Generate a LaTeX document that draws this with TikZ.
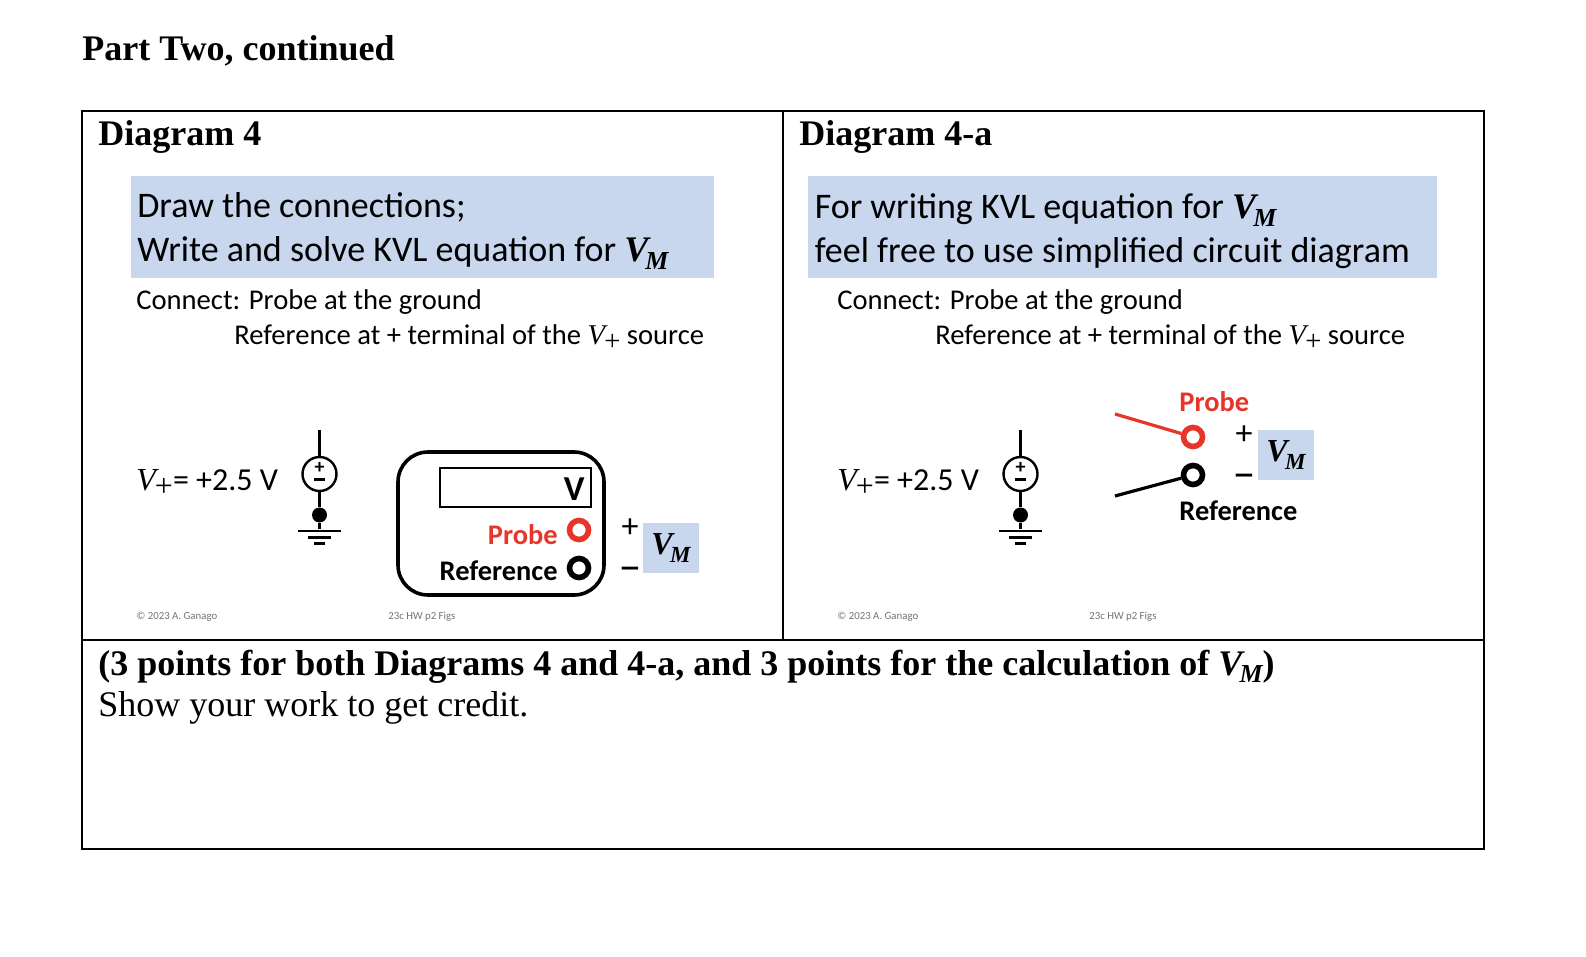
\documentclass[tikz,border=0pt]{standalone}
\usepackage{fontspec}
\setmainfont{Liberation Serif}
\newfontfamily\slidefont{Carlito}
\usetikzlibrary{positioning}
\definecolor{taskblue}{HTML}{C8D6EE}
\definecolor{probered}{HTML}{E8352A}
\newcommand{\vplus}{{\rmfamily\itshape V\kern-.03em}\raisebox{-.42ex}{\rmfamily +}}
\newcommand{\vmeas}{{\rmfamily\bfseries\itshape V\kern-.08em\raisebox{-.48ex}{\scalebox{.72}{M}}}}
\tikzstyle{heading} = [anchor=base west, inner sep=0pt, font=\fontsize{18}{22}\selectfont\bfseries]
\tikzstyle{bodytext} = [anchor=base west, inner sep=0pt, font=\fontsize{18}{22}\selectfont]
\tikzstyle{task} = [anchor=north west, fill=taskblue, minimum height=51pt, inner xsep=3.2pt, inner ysep=0pt, align=left, font=\slidefont\fontsize{18}{21.75}\selectfont]
\tikzstyle{note} = [anchor=base west, inner sep=0pt, font=\slidefont\fontsize{14.3}{17}\selectfont]
\tikzstyle{voltage} = [anchor=base west, inner sep=0pt, font=\slidefont\fontsize{16}{20}\selectfont]
\tikzstyle{credit} = [anchor=base west, inner sep=0pt, text=black!55, font=\slidefont\fontsize{5.4}{6}\selectfont]
\tikzstyle{source} = [circle, draw=black, line width=1.2pt, minimum size=17pt, inner sep=0pt]
\tikzstyle{sign} = [inner sep=0pt, font=\slidefont\bfseries\fontsize{10}{10}\selectfont]
\tikzstyle{junction} = [circle, fill=black, minimum size=7.5pt, inner sep=0pt]
\tikzstyle{gndbar} = [fill=black, inner sep=0pt, minimum height=1.3pt]
\tikzstyle{wire} = [line width=1.1pt]
\tikzstyle{lead} = [line width=1.6pt]
\tikzstyle{terminal} = [circle, fill=white, line width=2.8pt, minimum size=9.5pt, inner sep=0pt]
\tikzstyle{termlabel} = [anchor=base east, inner sep=0pt, font=\slidefont\bfseries\fontsize{14.2}{17}\selectfont]
\tikzstyle{polarity} = [inner sep=0pt, font=\slidefont\fontsize{17}{17}\selectfont]
\tikzstyle{vmbox} = [fill=taskblue, minimum width=28pt, minimum height=25pt, inner sep=0pt, font=\fontsize{16}{18}\selectfont]
\tikzstyle{meter} = [rectangle, rounded corners=15pt, draw=black, line width=1.8pt, minimum width=103pt, minimum height=71.5pt]
\tikzstyle{display} = [rectangle, draw=black, line width=1.3pt, minimum width=75.5pt, minimum height=19.5pt, inner sep=0pt]
\tikzstyle{table} = [line width=.55pt]

\begin{document}
\begin{tikzpicture}[x=.5pt, y=-.5pt]
 \useasboundingbox (0,0) rectangle (1586,957);

 \node (title) [heading] at (82,61) {Part Two, continued};

 \coordinate (tl) at (82,111);
 \coordinate (tr) at (1484,111);
 \coordinate (bl) at (82,849);
 \coordinate (br) at (1484,849);
 \coordinate (ml) at (82,640);
 \coordinate (mr) at (1484,640);
 \coordinate (mt) at (783,111);
 \coordinate (mb) at (783,640);
 \draw [table] (tl) -- (tr) -- (br) -- (bl) -- cycle;
 \draw [table] (ml) -- (mr);
 \draw [table] (mt) -- (mb);

 \node (headleft) [heading] at (98,146) {Diagram 4};
 \node (headright) [heading] at (799,146) {Diagram 4-a};

 \node (taskleft) [task, text width=285.3pt] at (130.5,176) {\spaceskip=0pt\rule{0pt}{16pt}Draw the connections;\\Write and solve KVL equation for \vmeas};
 \node (taskright) [task, text width=308.1pt] at (808,176) {\spaceskip=0pt\rule{0pt}{16pt}For writing KVL equation for \vmeas\\feel free to use simplified circuit diagram};

 \node (connleft) [note] at (136,310) {Connect: Probe at the ground};
 \node (refleft) [note] at (234,344.5) {Reference at + terminal of the \vplus\ source};
 \node (connright) [note] at (837,310) {Connect: Probe at the ground};
 \node (refright) [note] at (935,344.5) {Reference at + terminal of the \vplus\ source};

 \node (vleft) [voltage] at (136,490) {\vplus= +2.5 V};
 \node (srcleft) [source] at (319.5,474) {};
 \node [sign] at (319.5,468) {+};
 \node [sign] at (319.5,482) {\rule[.5ex]{5.5pt}{1.1pt}};
 \coordinate (topleft) at (319.5,430);
 \node (dotleft) [junction] at (319.5,515) {};
 \node (gndleft) [gndbar, minimum width=21.5pt] at (319.5,531) {};
 \node (gndleftb) [gndbar, minimum width=11.5pt] at (319.5,537.5) {};
 \node (gndleftc) [gndbar, minimum width=5.5pt] at (319.5,543.5) {};
 \draw [wire] (topleft) -- (srcleft);
 \draw [wire] (srcleft) -- (dotleft);
 \draw [wire] (dotleft) -- (gndleft);

 \node (meter) [meter] at (501,523.5) {};
 \node (display) [display] at (515.5,487.5) {};
 \node (unit) [anchor=east, inner sep=0pt, font=\slidefont\bfseries\fontsize{17.5}{17.5}\selectfont] at (585,489) {V};
 \node (probeterm) [terminal, draw=probered] at (579,530) {};
 \node (refterm) [terminal, draw=black] at (579,568) {};
 \node (probelabel) [termlabel, text=probered] at (558,544) {Probe};
 \node (reflabel) [termlabel] at (558,580) {Reference};
 \node (plusleft) [polarity] at (630,528) {+};
 \node (minusleft) [polarity, font=\slidefont\fontsize{22}{22}\selectfont] at (630,575) {−};
 \node (vmleft) [vmbox] at (671,548) {\vmeas};

 \node (credleft) [credit] at (136,619) {© 2023 A. Ganago};
 \node (figleft) [credit] at (388,619) {23c HW p2 Figs};

 \node (vright) [voltage] at (837,490) {\vplus= +2.5 V};
 \node (srcright) [source] at (1020.5,474) {};
 \node [sign] at (1020.5,468) {+};
 \node [sign] at (1020.5,482) {\rule[.5ex]{5.5pt}{1.1pt}};
 \coordinate (topright) at (1020.5,430);
 \node (dotright) [junction] at (1020.5,515) {};
 \node (gndright) [gndbar, minimum width=21.5pt] at (1020.5,531) {};
 \node (gndrightb) [gndbar, minimum width=11.5pt] at (1020.5,537.5) {};
 \node (gndrightc) [gndbar, minimum width=5.5pt] at (1020.5,543.5) {};
 \draw [wire] (topright) -- (srcright);
 \draw [wire] (srcright) -- (dotright);
 \draw [wire] (dotright) -- (gndright);

 \coordinate (probeend) at (1115,414);
 \coordinate (refend) at (1115,496);
 \node (probetip) [terminal, draw=probered] at (1193,437) {};
 \node (reftip) [terminal, draw=black] at (1193,475) {};
 \draw [lead, draw=probered] (probeend) -- (probetip);
 \draw [lead] (refend) -- (reftip);
 \node (probename) [termlabel, anchor=base west, text=probered] at (1179,412) {Probe};
 \node (refname) [termlabel, anchor=base west] at (1179,520) {Reference};
 \node (plusright) [polarity] at (1244,435) {+};
 \node (minusright) [polarity, font=\slidefont\fontsize{22}{22}\selectfont] at (1244,482) {−};
 \node (vmright) [vmbox] at (1286,455) {\vmeas};

 \node (credright) [credit] at (837,619) {© 2023 A. Ganago};
 \node (figright) [credit] at (1089,619) {23c HW p2 Figs};

 \node (points) [heading] at (98,675) {(3 points for both Diagrams 4 and 4-a, and 3 points for the calculation of \vmeas)};
 \node (show) [bodytext] at (98,716) {Show your work to get credit.};
\end{tikzpicture}
\end{document}
